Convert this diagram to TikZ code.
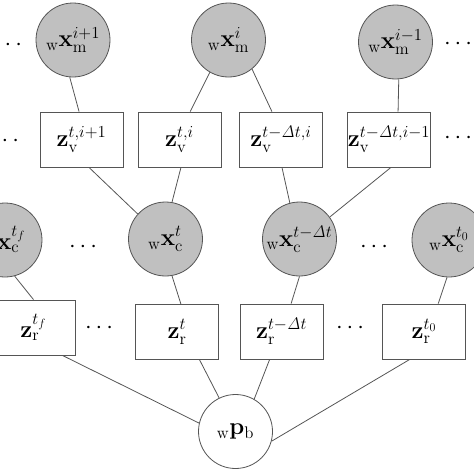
\documentclass[tikz,border=0pt]{standalone}
\usepackage{fix-cm}
\usepackage{amsmath}
\definecolor{edgec}{RGB}{85,85,85}
\definecolor{fillc}{RGB}{192,192,192}
\begin{document}
\begin{tikzpicture}[x=1pt,y=-1pt,
  every node/.style={font=\fontsize{24}{28}\selectfont},
  obs/.style={circle, draw=edgec, fill=fillc, line width=0.8pt, minimum size=74pt, inner sep=0pt},
  lat/.style={circle, draw=edgec, fill=white, line width=0.8pt, minimum size=74pt, inner sep=0pt},
  fac/.style={rectangle, draw=edgec, fill=white, line width=0.8pt, minimum width=83pt, minimum height=55pt, inner sep=0pt},
  link/.style={draw=edgec, line width=0.8pt},
  dotsn/.style={inner sep=0pt, anchor=base}]
\useasboundingbox (0,0) rectangle (474,474);
% measurement row
\node[obs] (m1) at (73,40) {${}_{\mathrm{w}}\mathbf{x}_{\mathrm{m}}^{i+1}$};
\node[obs] (m2) at (228.5,40) {${}_{\mathrm{w}}\mathbf{x}_{\mathrm{m}}^{i}$};
\node[obs] (m3) at (395.5,42) {${}_{\mathrm{w}}\mathbf{x}_{\mathrm{m}}^{i-1}$};
% v factors
\node[fac] (v1) at (81.5,139.5) {$\mathbf{z}_{\mathrm{v}}^{t,i+1}$};
\node[fac] (v2) at (179.5,139.5) {$\mathbf{z}_{\mathrm{v}}^{t,i}$};
\node[fac] (v3) at (281,139.5) {$\mathbf{z}_{\mathrm{v}}^{t-\mathit{\Delta}t,i}$};
\node[fac] (v4) at (389,139.5) {$\mathbf{z}_{\mathrm{v}}^{t-\mathit{\Delta}t,i-1}$};
% camera poses
\node[obs] (c1) at (5,240) {${}_{\mathrm{w}}\mathbf{x}_{\mathrm{c}}^{t_f}$};
\node[obs] (c2) at (165.5,239) {${}_{\mathrm{w}}\mathbf{x}_{\mathrm{c}}^{t}$};
\node[obs] (c3) at (299.5,239) {${}_{\mathrm{w}}\mathbf{x}_{\mathrm{c}}^{t-\mathit{\Delta}t}$};
\node[obs] (c4) at (449,240) {${}_{\mathrm{w}}\mathbf{x}_{\mathrm{c}}^{t_0}$};
% r factors
\node[fac] (r1) at (33.5,327.5) {$\mathbf{z}_{\mathrm{r}}^{t_f}$};
\node[fac] (r2) at (177,332) {$\mathbf{z}_{\mathrm{r}}^{t}$};
\node[fac] (r3) at (281.5,331.5) {$\mathbf{z}_{\mathrm{r}}^{t-\mathit{\Delta}t}$};
\node[fac] (r4) at (424,331.5) {$\mathbf{z}_{\mathrm{r}}^{t_0}$};
% base pose
\node[lat] (p) at (235.5,431.5) {${}_{\mathrm{w}}\mathbf{p}_{\mathrm{b}}$};
% dots
\node[dotsn] (d1) at (10,50) {$\cdots$};
\node[dotsn] (d2) at (7,146) {$\cdots$};
\node[dotsn] (d3) at (460,49) {$\cdots$};
\node[dotsn] (d4) at (460,143) {$\cdots$};
\node[dotsn] (d5) at (85,252) {$\cdots$};
\node[dotsn] (d6) at (376,252) {$\cdots$};
\node[dotsn] (d7) at (101,333) {$\cdots$};
\node[dotsn] (d8) at (352,333) {$\cdots$};
% edges
\draw[link] (m1.-95) -- (v1.95);
\draw[link] (m2.-120) -- (v2.69);
\draw[link] (m2.-51) -- (v3.108);
\draw[link] (m3.-85) -- (v4.72);
\draw[link] (v1.-75) -- (c2.138);
\draw[link] (v2.-87) -- (c2.80);
\draw[link] (v3.-88) -- (c3.105);
\draw[link] (v4.-86) -- (c3.36);
\draw[link] (c1.-75) -- (r1.north);
\draw[link] (c2.-80) -- (r2.82);
\draw[link] (c3.south) -- (r3.71);
\draw[link] (c4.-93) -- (r4.63);
\draw[link] (r1.-44) -- (p.167);
\draw[link] (r2.-51) -- (p.116);
\draw[link] (r3.-113) -- (p.60);
\draw[link] (r4.-117) -- (p.-15);
\end{tikzpicture}
\end{document}
